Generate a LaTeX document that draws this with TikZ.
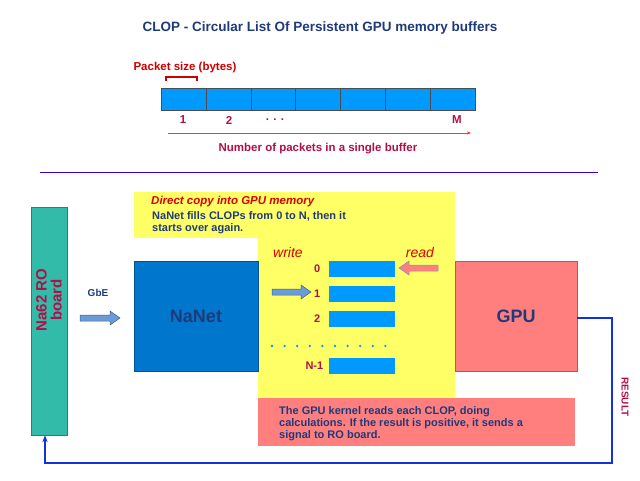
\documentclass[tikz,border=0pt]{standalone}
\usepackage{fontspec}
\setmainfont{Liberation Sans}
\usetikzlibrary{arrows.meta}
\definecolor{navy}{HTML}{1F3A7A}
\definecolor{crim}{HTML}{B01048}
\definecolor{cell}{HTML}{0099FF}
\definecolor{yel}{HTML}{FFFF66}
\definecolor{nanet}{HTML}{0077CC}
\definecolor{gpu}{HTML}{FF7F7F}
\definecolor{teal2}{HTML}{33BBAA}
\definecolor{lnk}{HTML}{1133DD}
\definecolor{barr}{HTML}{6A9BD8}
\newcommand{\fs}[1]{\fontsize{#1}{#1}\selectfont}
\begin{document}
\begin{tikzpicture}[x=1pt,y=-1pt,font=\bfseries\sffamily,
  cellb/.style={draw=black!70,fill=cell,minimum height=22pt,inner sep=0pt},
  buf/.style={fill=cell,minimum width=66pt,minimum height=16pt,inner sep=0pt},
  idx/.style={text=crim,font=\bfseries\fs{11},anchor=east},
  fat/.style={draw=#1!60!black,line width=0.5pt,fill=#1}]
\useasboundingbox (0,0) rectangle (640,480);
\node[text=navy,font=\bfseries\fs{13.5}] (title) at (320,28) {CLOP - Circular List Of Persistent GPU memory buffers};
\node[text=red!80!black,font=\bfseries\fs{11.5}] (ps) at (185,68) {Packet size (bytes)};
\draw[red!80!black,line width=2pt] (166,81) -- (166,77) -- (197,77) -- (197,81);
\foreach \i in {0,...,6}{\node[cellb,minimum width=44.9pt] (c\i) at (183.4+44.9*\i,99) {};}
\node[text=crim,font=\bfseries\fs{11.5}] (l1) at (183,120) {1};
\node[text=crim,font=\bfseries\fs{11.5}] (l2) at (229,120) {2};
\node[text=crim,font=\bfseries\fs{11.5}] (l3) at (275,120) {. . .};
\node[text=crim,font=\bfseries\fs{11.5}] (lm) at (457,120) {M};
\coordinate (a1) at (168,133); \coordinate (a2) at (471,133);
\draw[red!80,-{Stealth[length=4pt]}] (a1) -- (a2);
\node[text=crim,font=\bfseries\fs{11.5}] (np) at (318,149) {Number of packets in a single buffer};
\coordinate (h1) at (40,172); \coordinate (h2) at (598,172);
\draw[blue!60!violet] (h1) -- (h2);
\node[fill=yel,minimum width=321pt,minimum height=46pt,inner sep=0pt] (yt) at (294.5,215) {};
\node[fill=yel,minimum width=197pt,minimum height=162pt,inner sep=0pt] (yb) at (356.5,319) {};
\node[text=red!85!black,font=\bfseries\itshape\fs{11.5},anchor=west,inner sep=0pt] (dc) at (151,202) {Direct copy into GPU memory};
\node[text=navy,font=\bfseries\fs{11},anchor=north west,align=left,inner sep=0pt] (nf) at (152,211) {NaNet fills CLOPs from 0 to N, then it\\[1pt]starts over again.};
\node[fill=teal2,draw=teal2!70!black,minimum width=36pt,minimum height=228pt,inner sep=0pt] (na) at (49,321) {};
\node[rotate=90,text=crim,font=\bfseries\fs{15},align=center] (nat) at (49,300) {Na62 RO\\board};
\node[fill=nanet,draw=nanet!70!black,minimum width=124pt,minimum height=110pt,inner sep=0pt,text=navy,font=\bfseries\fs{18}] (nn) at (196,316) {NaNet};
\node[fill=gpu,draw=gpu!70!black,minimum width=122pt,minimum height=110pt,inner sep=0pt,text=navy,font=\bfseries\fs{18}] (gp) at (516,316) {GPU};
\node[text=red!85!black,font=\itshape\fs{14}] (wr) at (288,252) {write};
\node[text=red!85!black,font=\itshape\fs{14}] (rd) at (420,252) {read};
\node[buf] (b0) at (362,269) {}; \node[idx] at (b0.west) [xshift=-5pt] {0};
\node[buf] (b1) at (362,294) {}; \node[idx] at (b1.west) [xshift=-5pt] {1};
\node[buf] (b2) at (362,319) {}; \node[idx] at (b2.west) [xshift=-5pt] {2};
\node[buf] (b3) at (362,366) {}; \node[idx] at (b3.west) [xshift=-2pt] {N-1};
\foreach \i in {0,...,9}{\fill[cell] (272+12.6*\i,346) circle (1.3pt);}
\draw[fat=barr] (272,289) -- (301,289) -- (301,285) -- (311,292) -- (301,299) -- (301,295) -- (272,295) -- cycle;
\draw[fat=gpu,draw=barr] (438,265) -- (409,265) -- (409,261) -- (399,268) -- (409,275) -- (409,271) -- (438,271) -- cycle;
\draw[fat=barr] (80,315) -- (110,315) -- (110,311) -- (120,318) -- (110,325) -- (110,321) -- (80,321) -- cycle;
\node[text=navy,font=\bfseries\fs{10}] (gbe) at (98,293) {GbE};
\node[fill=gpu,minimum width=317pt,minimum height=48pt,inner sep=0pt] (pk) at (416.5,422) {};
\node[text=navy,font=\bfseries\fs{11},anchor=north west,align=left,inner sep=0pt] (pkt) at (279,406) {The GPU kernel reads each CLOP, doing\\[1pt]calculations. If the result is positive, it sends a\\[1pt]signal to RO board.};
\coordinate (r1) at (612,318); \coordinate (r2) at (612,463); \coordinate (r3) at (45,463);
\draw[lnk,line width=1.5pt,-{Stealth[length=7pt]}] (gp.east |- 0,318) -- (r1) -- (r2) -- (r3) -- (na.south -| r3);
\node[rotate=-90,text=crim,font=\bfseries\fs{10}] (res) at (625,397) {RESULT};
\end{tikzpicture}
\end{document}
